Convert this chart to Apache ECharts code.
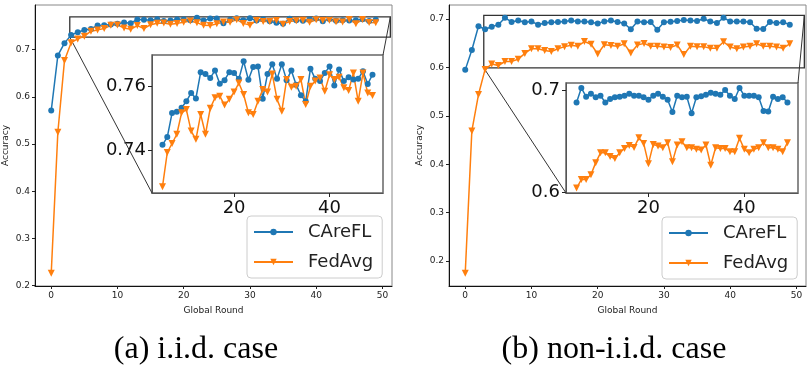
<!DOCTYPE html>
<html>
<head>
<meta charset="utf-8">
<script src="https://cdn.jsdelivr.net/npm/echarts@6/dist/echarts.min.js"></script>
<style>
  html, body { margin: 0; padding: 0; background: #fff; }
  #chart { width: 810px; height: 366px; }
</style>
</head>
<body>
<div id="chart"></div>
<script>
// global rounds
var rounds = [0, 1, 2, 3, 4, 5, 6, 7, 8, 9, 10, 11, 12, 13, 14, 15, 16, 17, 18, 19,
  20, 21, 22, 23, 24, 25, 26, 27, 28, 29, 30, 31, 32, 33, 34, 35, 36, 37, 38, 39,
  40, 41, 42, 43, 44, 45, 46, 47, 48, 49]

// (a) i.i.d. case
var iidCAreFL = [0.571, 0.688, 0.714, 0.731, 0.737, 0.7417, 0.7441, 0.7516, 0.7520, 0.7533,
  0.7553, 0.7579, 0.7562, 0.7644, 0.7638, 0.7626, 0.7649, 0.7608, 0.7619, 0.7644,
  0.7641, 0.7623, 0.7678, 0.7620, 0.7660, 0.7662, 0.7561, 0.7638, 0.7669, 0.7623,
  0.7669, 0.7619, 0.7649, 0.7605, 0.7572, 0.7553, 0.7655, 0.7623, 0.7616, 0.7641,
  0.7662, 0.7602, 0.7652, 0.7616, 0.7628, 0.7621, 0.7623, 0.7647, 0.7607, 0.7636]
var iidFedAvg = [0.226, 0.525, 0.677, 0.715, 0.723, 0.7286, 0.7393, 0.7421, 0.7450, 0.7517,
  0.7527, 0.7460, 0.7434, 0.7512, 0.7450, 0.7531, 0.7564, 0.7569, 0.7541, 0.7559,
  0.7582, 0.7610, 0.7574, 0.7517, 0.7512, 0.7553, 0.7590, 0.7582, 0.7638, 0.7559,
  0.7522, 0.7621, 0.7597, 0.7600, 0.7621, 0.7543, 0.7600, 0.7616, 0.7626, 0.7584,
  0.7636, 0.7621, 0.7628, 0.7595, 0.7587, 0.7641, 0.7553, 0.7641, 0.7579, 0.7571]

// (b) non-i.i.d. case
var nonCAreFL = [0.595, 0.636, 0.685, 0.679, 0.684, 0.6884, 0.7026, 0.694, 0.697, 0.6934,
  0.695, 0.6884, 0.6917, 0.6934, 0.694, 0.695, 0.697, 0.695, 0.695, 0.6934,
  0.691, 0.695, 0.697, 0.694, 0.691, 0.679, 0.695, 0.6934, 0.694, 0.6778,
  0.6934, 0.6944, 0.696, 0.698, 0.697, 0.696, 0.7007, 0.695, 0.6917, 0.7026,
  0.695, 0.695, 0.695, 0.6934, 0.680, 0.6795, 0.694, 0.6917, 0.6934, 0.6884]
var nonFedAvg = [0.175, 0.469, 0.544, 0.596, 0.607, 0.604, 0.6123, 0.6125, 0.617, 0.629,
  0.6387, 0.6387, 0.635, 0.633, 0.6387, 0.643, 0.646, 0.644, 0.6535, 0.648,
  0.628, 0.6470, 0.6454, 0.6437, 0.6487, 0.6298, 0.6464, 0.6497, 0.6437, 0.6437,
  0.6421, 0.6414, 0.6464, 0.6265, 0.6437, 0.6430, 0.6430, 0.6397, 0.6397, 0.6530,
  0.6421, 0.6387, 0.6421, 0.6437, 0.6487, 0.6437, 0.6437, 0.6421, 0.6397, 0.6487]

// tick labels
var xTicks = [0, 10, 20, 30, 40, 50]
var yTicks = [0.2, 0.3, 0.4, 0.5, 0.6, 0.7]
var insetXTicks = [20, 40]
var insetYTicksA = [0.74, 0.76]
var insetYTicksB = [0.6, 0.7]

var insetFrom = 5 // inset shows rounds 5..49

var blue = '#1f77b4'
var orange = '#ff7f0e'

function pad (lo, hi) {
  var m = (hi - lo) * 0.05
  return [lo - m, hi + m]
}
function range (arrs) {
  var all = [].concat.apply([], arrs)
  return pad(Math.min.apply(null, all), Math.max.apply(null, all))
}
function pairs (xs, ys, from) {
  var out = []
  for (var i = from; i < xs.length; i++) out.push([xs[i], ys[i]])
  return out
}

var mainX = range([rounds])
var insX = range([rounds.slice(insetFrom)])
var mainYA = range([iidCAreFL, iidFedAvg])
var mainYB = range([nonCAreFL, nonFedAvg])
var insYA = range([iidCAreFL.slice(insetFrom), iidFedAvg.slice(insetFrom)])
var insYB = range([nonCAreFL.slice(insetFrom), nonFedAvg.slice(insetFrom)])

function xAxisCfg (grid, r, ticks, big) {
  return {
    type: 'value', gridIndex: grid, min: r[0], max: r[1],
    name: big ? '' : 'Global Round', nameLocation: 'middle', nameGap: 20,
    nameTextStyle: { fontFamily: 'DejaVu Sans', fontSize: 9, color: '#222' },
    axisLine: { show: true, onZero: false, lineStyle: { color: big ? '#555' : '#111', width: 1 } },
    axisTick: { show: true, length: big ? 4 : 3, customValues: ticks, lineStyle: { color: '#222' } },
    axisLabel: {
      customValues: ticks, margin: big ? 6 : 5, color: big ? '#111' : '#222',
      fontFamily: 'DejaVu Sans', fontSize: big ? 18 : 9
    },
    splitLine: { show: false }
  }
}
function yAxisCfg (grid, r, ticks, big, digits) {
  return {
    type: 'value', gridIndex: grid, min: r[0], max: r[1],
    name: big ? '' : 'Accuracy', nameLocation: 'middle', nameGap: 25,
    nameTextStyle: { fontFamily: 'DejaVu Sans', fontSize: 9, color: '#222' },
    axisLine: { show: true, onZero: false, lineStyle: { color: big ? '#555' : '#111', width: 1 } },
    axisTick: { show: true, length: big ? 4 : 3, customValues: ticks, lineStyle: { color: '#222' } },
    axisLabel: {
      customValues: ticks, margin: big ? 6 : 5, color: big ? '#111' : '#222',
      fontFamily: 'DejaVu Sans', fontSize: big ? 18 : 9,
      formatter: function (v) { return v.toFixed(digits) }
    },
    splitLine: { show: false }
  }
}
function lineSeries (name, axis, data, color, tri) {
  return {
    name: name, type: 'line', xAxisIndex: axis, yAxisIndex: axis, data: data,
    symbol: tri ? 'triangle' : 'circle', symbolRotate: tri ? 180 : 0,
    symbolSize: tri ? 7 : 6, showSymbol: true,
    lineStyle: { color: color, width: 1.5 }, itemStyle: { color: color },
    animation: false
  }
}
function zoomBox (xr, yr) {
  return {
    silent: true,
    itemStyle: { color: 'rgba(0,0,0,0)', borderColor: '#333', borderWidth: 1.3 },
    data: [[{ coord: [xr[0], yr[0]] }, { coord: [xr[1], yr[1]] }]]
  }
}
function legendCfg (left, top) {
  return {
    data: ['CAreFL', 'FedAvg'], orient: 'vertical', left: left, top: top,
    itemWidth: 39, itemHeight: 8, itemGap: 12, padding: [7, 9, 7, 6],
    backgroundColor: 'rgba(255,255,255,0.8)', borderColor: '#ccc', borderWidth: 1, borderRadius: 4,
    textStyle: { fontFamily: 'DejaVu Sans', fontSize: 18, color: '#222', padding: [0, 0, 0, 10] }
  }
}

var chart = echarts.init(document.getElementById('chart'), null, { renderer: 'canvas' })

var seriesA = lineSeries('FedAvg', 0, pairs(rounds, iidFedAvg, 0), orange, true)
seriesA.markArea = zoomBox(insX, insYA)
var seriesB = lineSeries('FedAvg', 1, pairs(rounds, nonFedAvg, 0), orange, true)
seriesB.markArea = zoomBox(insX, insYB)

chart.setOption({
  animation: false,
  grid: [
    { left: 35, top: 5, width: 357, height: 281, show: true, borderColor: '#888', borderWidth: 1 },
    { left: 449, top: 5, width: 357, height: 281, show: true, borderColor: '#888', borderWidth: 1 },
    { left: 152, top: 55, width: 231, height: 138, show: true, borderColor: '#666', borderWidth: 1.5, backgroundColor: '#fff' },
    { left: 566, top: 83, width: 232, height: 110, show: true, borderColor: '#666', borderWidth: 1.5, backgroundColor: '#fff' }
  ],
  xAxis: [
    xAxisCfg(0, mainX, xTicks, false),
    xAxisCfg(1, mainX, xTicks, false),
    xAxisCfg(2, insX, insetXTicks, true),
    xAxisCfg(3, insX, insetXTicks, true)
  ],
  yAxis: [
    yAxisCfg(0, mainYA, yTicks, false, 1),
    yAxisCfg(1, mainYB, yTicks, false, 1),
    yAxisCfg(2, insYA, insetYTicksA, true, 2),
    yAxisCfg(3, insYB, insetYTicksB, true, 1)
  ],
  legend: [legendCfg(247, 216), legendCfg(662, 217)],
  series: [
    lineSeries('CAreFL', 0, pairs(rounds, iidCAreFL, 0), blue, false),
    seriesA,
    lineSeries('CAreFL', 1, pairs(rounds, nonCAreFL, 0), blue, false),
    seriesB,
    lineSeries('CAreFL', 2, pairs(rounds, iidCAreFL, insetFrom), blue, false),
    lineSeries('FedAvg', 2, pairs(rounds, iidFedAvg, insetFrom), orange, true),
    lineSeries('CAreFL', 3, pairs(rounds, nonCAreFL, insetFrom), blue, false),
    lineSeries('FedAvg', 3, pairs(rounds, nonFedAvg, insetFrom), orange, true)
  ]
})

// connector lines between zoom box and inset corners
function px (axis, pt) {
  return chart.convertToPixel({ xAxisIndex: axis, yAxisIndex: axis }, pt)
}
function connector (a, b) {
  return { type: 'line', silent: true, z: 1, shape: { x1: a[0], y1: a[1], x2: b[0], y2: b[1] }, style: { stroke: '#333', lineWidth: 1 } }
}
var graphics = [
  connector(px(0, [insX[0], insYA[0]]), px(2, [insX[0], insYA[0]])),
  connector(px(0, [insX[1], insYA[1]]), px(2, [insX[1], insYA[1]])),
  connector(px(1, [insX[0], insYB[0]]), px(3, [insX[0], insYB[0]])),
  connector(px(1, [insX[1], insYB[1]]), px(3, [insX[1], insYB[1]])),
  { type: 'text', x: 196, y: 350, style: { text: '(a) i.i.d. case', font: '32px "Liberation Serif"', fill: '#000', align: 'center', verticalAlign: 'middle' } },
  { type: 'text', x: 614, y: 350, style: { text: '(b) non-i.i.d. case', font: '32px "Liberation Serif"', fill: '#000', align: 'center', verticalAlign: 'middle' } }
]
chart.setOption({ graphic: graphics })
</script>
</body>
</html>
